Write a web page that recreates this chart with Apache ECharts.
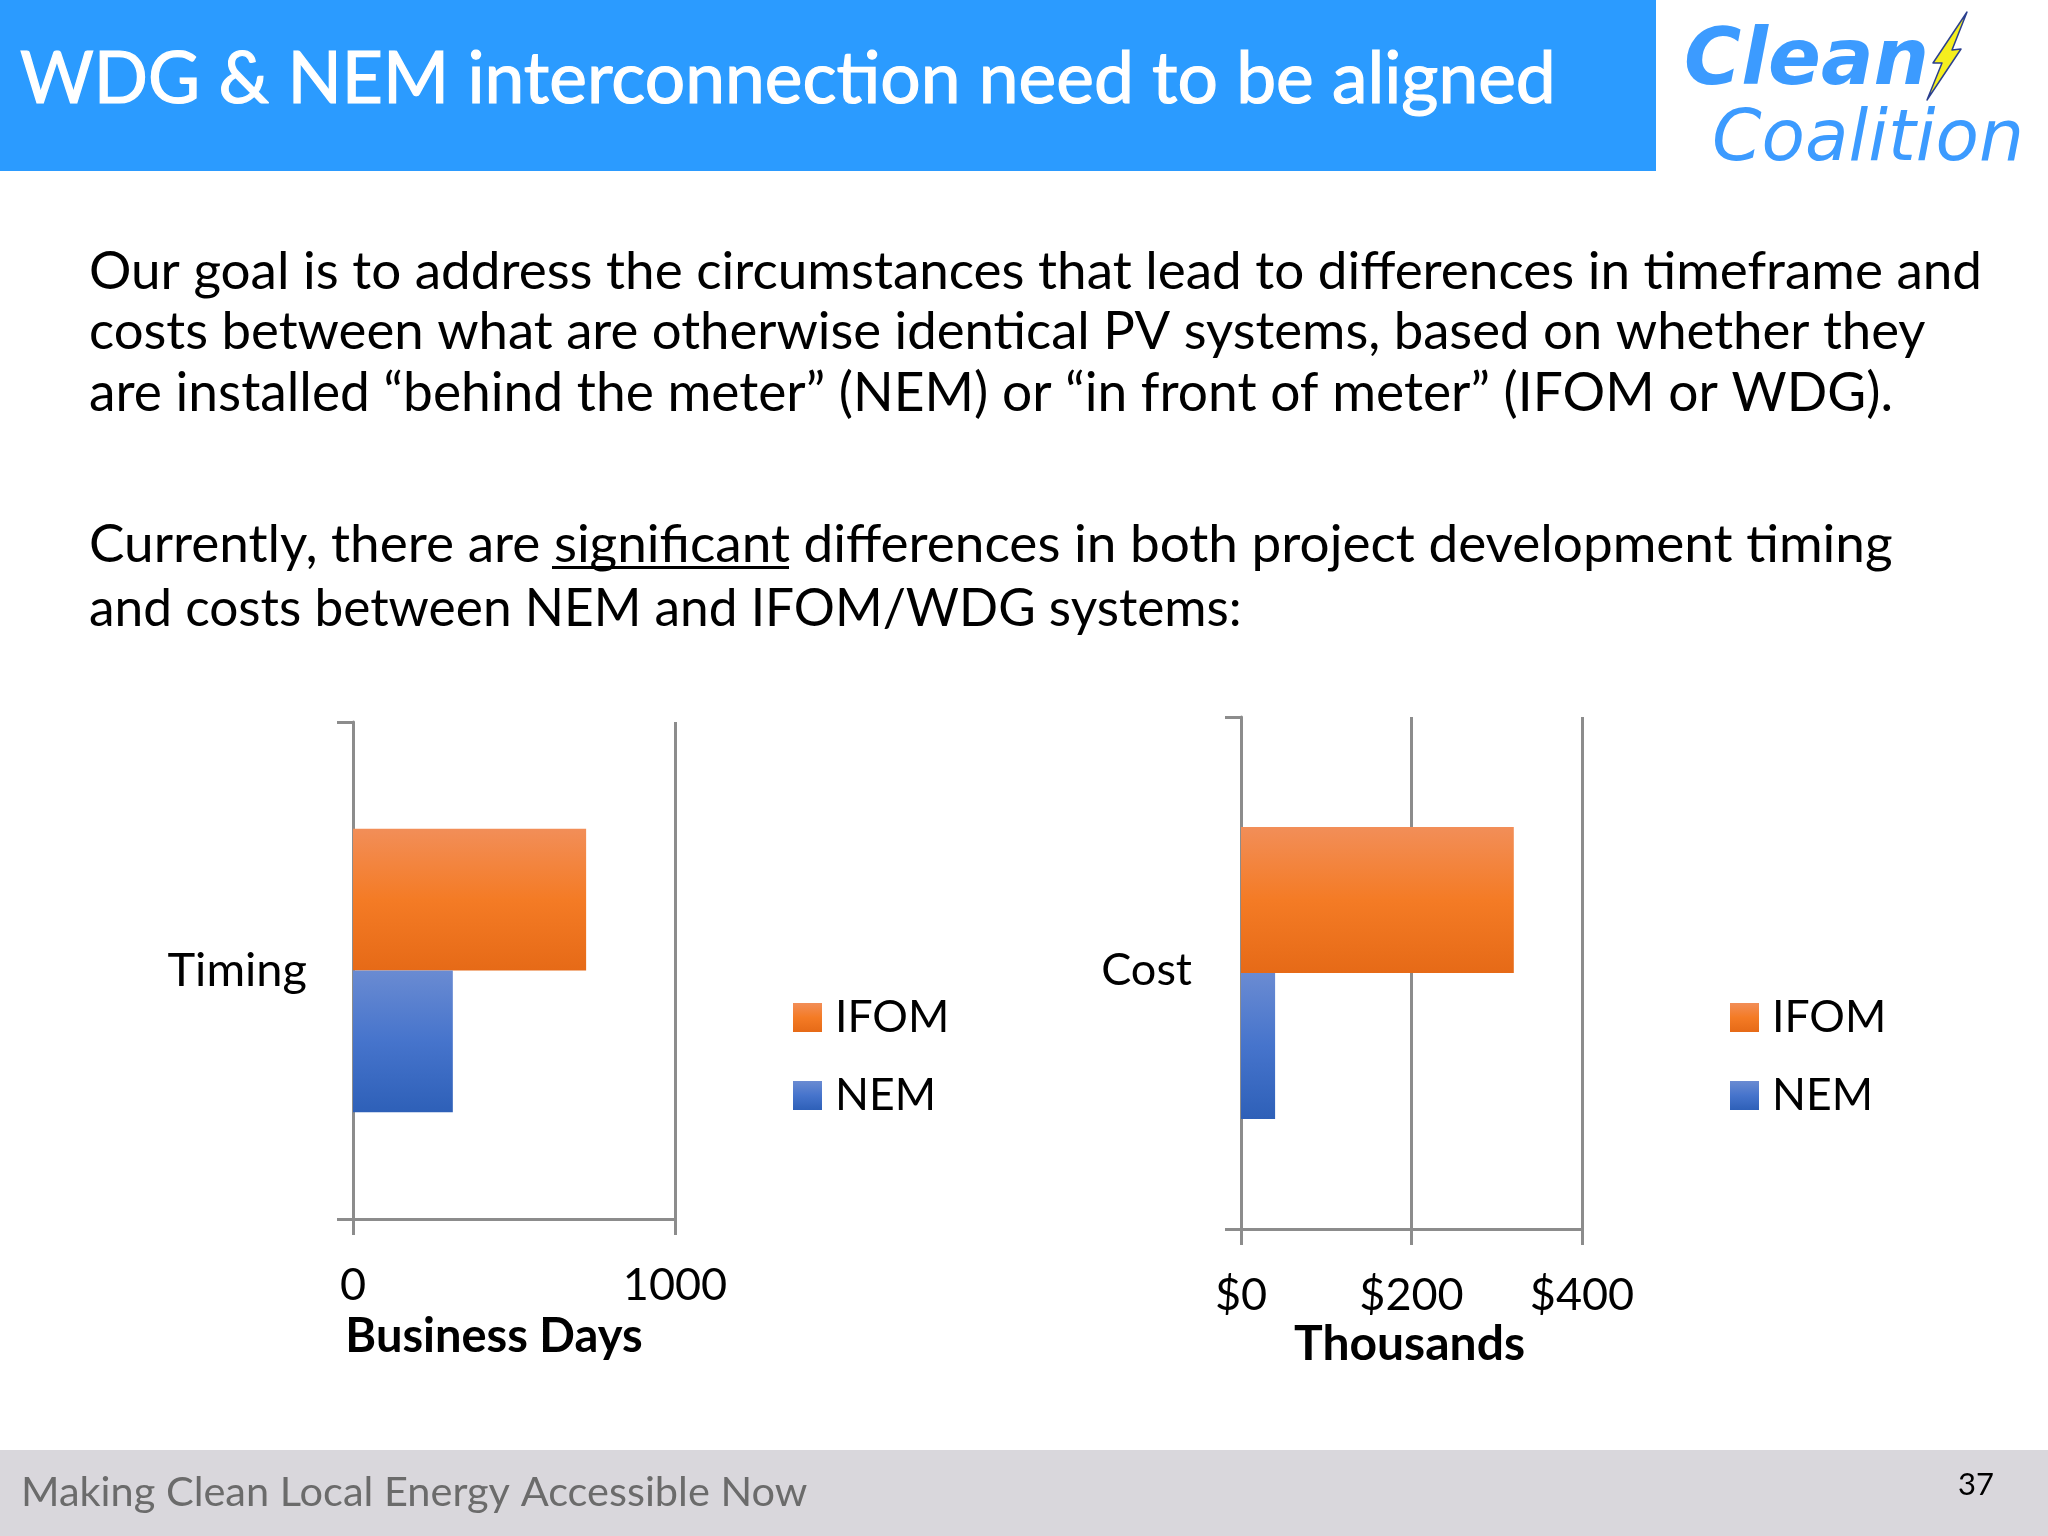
<!DOCTYPE html>
<html>
<head>
    <meta charset="utf-8">
    <title>WDG & NEM interconnection</title>
    <style>html,body{margin:0;padding:0;background:#fff}</style>
</head>
<body>
    <div id="main" style="width:2048px;height:1536px"></div>
    <script src="https://cdn.jsdelivr.net/npm/echarts@6/dist/echarts.min.js"></script>
    <script type="text/javascript">
    // chart data
    var seriesNames = ['IFOM', 'NEM'];
    var timingCategories = ['Timing'];
    var timingIfom = [724];
    var timingNem = [310];
    var costCategories = ['Cost'];
    var costIfom = [320];
    var costNem = [40];

    // slide text
    var titleText = 'WDG & NEM interconnection need to be aligned';
    var bodyLines = [
        'Our goal is to address the circumstances that lead to differences in timeframe and',
        'costs between what are otherwise identical PV systems, based on whether they',
        'are installed \u201cbehind the meter\u201d (NEM) or \u201cin front of meter\u201d (IFOM or WDG).',
        'Currently, there are significant differences in both project development timing',
        'and costs between NEM and IFOM/WDG systems:'
    ];
    var bodyTops = [245, 306, 367, 518, 584];
    // per line, Lato does not run quite the same width as the slide font
    var bodySizes = [53, 52.7, 53.3, 53.1, 51.4];
    var footerText = 'Making Clean Local Energy Accessible Now';
    var pageNumber = '37';

    var bodyFont = 'Lato, sans-serif';
    var grey = '#8c8c8c';

    function barFill(top, mid, bottom) {
        return new echarts.graphic.LinearGradient(0, 0, 0, 1, [
            {offset: 0, color: top},
            {offset: 0.5, color: mid},
            {offset: 1, color: bottom}
        ]);
    }
    var orangeFill = barFill('#f28e58', '#f47b25', '#e66a17');
    var blueFill = barFill('#6a8bd2', '#4674cc', '#2e60b8');

    function makeX(index, max, interval, prefix, name, nameSize, nameGap, namePadding) {
        return {
            type: 'value', gridIndex: index, min: 0, max: max, interval: interval,
            axisLine: {show: true, lineStyle: {color: grey, width: 3}},
            axisTick: {show: true, length: 16, lineStyle: {color: grey, width: 3}},
            splitLine: {show: true, lineStyle: {color: grey, width: 3}},
            axisLabel: {
                formatter: function (v) { return prefix + v; },
                fontFamily: bodyFont, fontSize: 45, color: '#000', margin: 44
            },
            name: name, nameLocation: 'middle', nameGap: nameGap,
            nameTextStyle: {fontFamily: bodyFont, fontSize: nameSize, fontWeight: 'bold', color: '#000', padding: namePadding}
        };
    }
    function makeY(index, cats, size, margin, liftPadding) {
        return {
            type: 'category', gridIndex: index, data: cats,
            axisLine: {show: true, lineStyle: {color: grey, width: 3}},
            axisTick: {show: true, length: 16, lineStyle: {color: grey, width: 3}},
            axisLabel: {
                formatter: '{a|{value}}', margin: margin,
                rich: {a: {fontFamily: bodyFont, fontSize: size, color: '#000', padding: [0, 0, liftPadding, 0]}}
            }
        };
    }
    function makeBars(index, ifom, nem) {
        return [
            {name: seriesNames[0], type: 'bar', xAxisIndex: index, yAxisIndex: index, data: ifom,
                barGap: 0, barCategoryGap: '43%', itemStyle: {color: orangeFill}},
            {name: seriesNames[1], type: 'bar', xAxisIndex: index, yAxisIndex: index, data: nem,
                barGap: 0, barCategoryGap: '43%', itemStyle: {color: blueFill}}
        ];
    }
    function makeLegend(left) {
        return {
            data: seriesNames, orient: 'vertical', left: left, top: 990, icon: 'rect',
            itemWidth: 29, itemHeight: 29, itemGap: 33,
            textStyle: {fontFamily: bodyFont, fontSize: 44.5, color: '#000', padding: [0, 0, 0, 8]},
            selectedMode: false
        };
    }

    var elements = [
        {type: 'rect', shape: {x: 0, y: 0, width: 1656, height: 171}, style: {fill: '#2b9bff'}},
        {type: 'rect', shape: {x: 0, y: 1450, width: 2048, height: 86}, style: {fill: '#d9d7dc'}},
        {type: 'text', x: 20, y: 80, style: {text: titleText, fill: '#fff', stroke: '#fff', lineWidth: 1.2, font: '71.3px ' + bodyFont, verticalAlign: 'middle'}},
        {type: 'text', x: 1684, y: 25, style: {text: 'Clean', fill: '#3c9bff', font: 'italic bold 78px "DejaVu Sans"'}},
        {type: 'text', x: 1712, y: 106, style: {text: 'Coalition', fill: '#3c9bff', font: 'italic 71px "DejaVu Sans"'}},
        {type: 'polygon', shape: {points: [[1967, 12], [1952, 50], [1961, 49], [1927, 100], [1942, 63], [1933, 63]]},
            style: {fill: '#f5ee1e', stroke: '#2a3f8f', lineWidth: 1.5, lineJoin: 'round'}},
        {type: 'rect', shape: {x: 552, y: 566, width: 237, height: 3}, style: {fill: '#000'}},
        {type: 'text', x: 21, y: 1493, style: {text: footerText, fill: '#6b6b6b', font: '41.5px ' + bodyFont, verticalAlign: 'middle'}},
        {type: 'text', x: 1958, y: 1485, style: {text: pageNumber, fill: '#000', font: '31px ' + bodyFont, verticalAlign: 'middle'}}
    ];
    for (var i = 0; i < bodyLines.length; i++) {
        elements.push({type: 'text', x: 89, y: bodyTops[i], style: {
            text: bodyLines[i], fill: '#000', font: bodySizes[i] + 'px ' + bodyFont
        }});
    }

    var myChart = echarts.init(document.getElementById('main'), null, {renderer: 'canvas'});
    var option = {
        backgroundColor: '#fff',
        animation: false,
        grid: [
            {left: 353, top: 722, width: 322, height: 497},
            {left: 1241, top: 717, width: 341, height: 512}
        ],
        xAxis: [
            makeX(0, 1000, 1000, '', 'Business Days', 47, 94, [0, 40, 0, 0]),
            makeX(1, 400, 200, '$', 'Thousands', 48, 92, [0, 4, 0, 0])
        ],
        yAxis: [
            makeY(0, timingCategories, 47, 46, 0),
            makeY(1, costCategories, 45, 49, 6)
        ],
        legend: [makeLegend(788), makeLegend(1725)],
        series: makeBars(0, timingIfom, timingNem).concat(makeBars(1, costIfom, costNem)),
        graphic: {elements: elements}
    };
    myChart.setOption(option);
    </script>
</body>
</html>
